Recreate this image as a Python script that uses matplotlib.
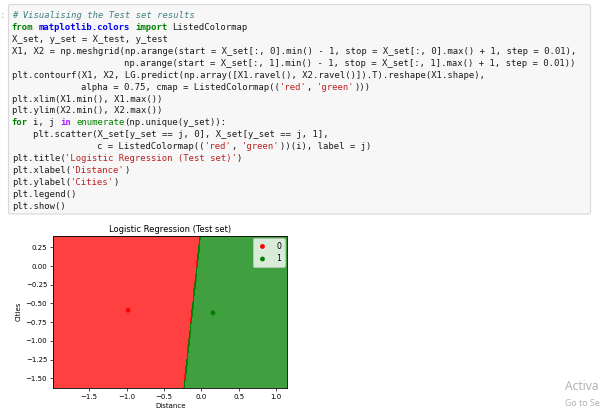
import re
import numpy as np
import matplotlib
matplotlib.use("Agg")
import matplotlib.pyplot as plt
from matplotlib.colors import ListedColormap
from matplotlib.patches import FancyBboxPatch

# ---------------- data ----------------
code_lines = [
    "# Visualising the Test set results",
    "from matplotlib.colors import ListedColormap",
    "X_set, y_set = X_test, y_test",
    "X1, X2 = np.meshgrid(np.arange(start = X_set[:, 0].min() - 1, stop = X_set[:, 0].max() + 1, step = 0.01),",
    "                     np.arange(start = X_set[:, 1].min() - 1, stop = X_set[:, 1].max() + 1, step = 0.01))",
    "plt.contourf(X1, X2, LG.predict(np.array([X1.ravel(), X2.ravel()]).T).reshape(X1.shape),",
    "             alpha = 0.75, cmap = ListedColormap(('red', 'green')))",
    "plt.xlim(X1.min(), X1.max())",
    "plt.ylim(X2.min(), X2.max())",
    "for i, j in enumerate(np.unique(y_set)):",
    "    plt.scatter(X_set[y_set == j, 0], X_set[y_set == j, 1],",
    "                c = ListedColormap(('red', 'green'))(i), label = j)",
    "plt.title('Logistic Regression (Test set)')",
    "plt.xlabel('Distance')",
    "plt.ylabel('Cities')",
    "plt.legend()",
    "plt.show()",
]

watermark_lines = ["Activa", "Go to Se"]

class_labels = [0, 1]
point_x = [-0.98, 0.155]      # Distance of the test points
point_y = [-0.59, -0.625]     # Cities of the test points
point_class = [0, 1]

# linear decision function (class 1 where positive), read from the boundary
decision_coef = [3.0, -0.317]
decision_intercept = 0.175

x_ticks = [-1.5, -1.0, -0.5, 0.0, 0.5, 1.0]
y_ticks = [0.25, 0.0, -0.25, -0.5, -0.75, -1.0, -1.25, -1.5]

# ---------------- figure ----------------
W, H = 606, 420
fig = plt.figure(figsize=(W / 100, H / 100), dpi=100)
fig.patch.set_facecolor("white")

ov = fig.add_axes([0, 0, 1, 1])
ov.set_xlim(0, W)
ov.set_ylim(H, 0)
ov.axis("off")

cell = FancyBboxPatch((8.5, 4.5), 582, 209.5,
                      boxstyle="round,pad=0,rounding_size=2",
                      facecolor="#f7f7f7", edgecolor="#d8d8d8", linewidth=0.8)
ov.add_patch(cell)
ov.text(2.5, 15.7, ":", fontsize=6.4, color="#b0b0b0", family="DejaVu Sans Mono",
        ha="center", va="center")

char_w = 5.36
font_pt = char_w / 0.602 * 72 / 100
x0 = 11.7
y0 = 15.7
dy = 11.9
tok_re = re.compile(r"(#.*)|('[^']*')|([A-Za-z_][A-Za-z_0-9.]*)|(\d+(?:\.\d+)?)|(.)")
kw = {"from", "import", "for"}
DEFAULT = ("#1a1a1a", "normal", "normal")
for li, line in enumerate(code_lines):
    y = y0 + li * dy
    prev_word = None
    runs = []  # [start_col, text, style]
    for m in tok_re.finditer(line):
        tok = m.group(0)
        st = DEFAULT
        if m.group(1):
            st = ("#408080", "normal", "italic")
        elif m.group(2):
            st = ("#BA2121", "normal", "normal")
        elif m.group(3):
            if tok in kw:
                st = ("#008000", "bold", "normal")
            elif tok == "in":
                st = ("#AA22FF", "bold", "normal")
            elif tok == "enumerate":
                st = ("#008000", "normal", "normal")
            elif prev_word == "from":
                st = ("#0000FF", "bold", "normal")
            prev_word = tok
        if tok.isspace() and runs:
            st = runs[-1][2]
        if runs and runs[-1][2] == st:
            runs[-1][1] += tok
        else:
            runs.append([m.start(), tok, st])
    for col, txt, (color, weight, style) in runs:
        if txt.strip() == "":
            continue
        lead = len(txt) - len(txt.lstrip())
        ov.text(x0 + (col + lead) * char_w, y, txt.strip(), fontsize=font_pt, color=color,
                fontweight=weight, fontstyle=style, family="DejaVu Sans Mono",
                ha="left", va="center")

ov.text(565, 386, watermark_lines[0], fontsize=8.6, color="#b4b4b4",
        family="Noto Sans", ha="left", va="center")
ov.text(565, 403, watermark_lines[1], fontsize=6.4, color="#b4b4b4",
        family="Noto Sans", ha="left", va="center")

# ---------------- chart ----------------
ax_l, ax_r, ax_t, ax_b = 53.3, 287.3, 235.7, 387.7
ax = fig.add_axes([ax_l / W, 1 - ax_b / H, (ax_r - ax_l) / W, (ax_b - ax_t) / H])

px = np.array(point_x)
py = np.array(point_y)
X1, X2 = np.meshgrid(np.arange(px.min() - 1, px.max() + 1, 0.01),
                     np.arange(py.min() - 1, py.max() + 1, 0.01))
Z = (decision_coef[0] * X1 + decision_coef[1] * X2 + decision_intercept > 0).astype(int)
cmap = ListedColormap(("red", "green"))
ax.contourf(X1, X2, Z, alpha=0.75, cmap=cmap)
ax.set_xlim(X1.min(), X1.max())
ax.set_ylim(X2.min(), X2.max())
pc = np.array(point_class)
for i, j in enumerate(class_labels):
    ax.scatter(px[pc == j], py[pc == j], color=cmap(i), s=12, label=str(j),
               edgecolors="none", zorder=3)

fs = 5.0
ax.set_title("Logistic Regression (Test set)", fontsize=6.0, pad=3)
ax.set_xlabel("Distance", fontsize=fs, labelpad=2.5)
ax.set_ylabel("Cities", fontsize=fs, labelpad=2.5)
ax.set_xticks(x_ticks)
ax.set_yticks(y_ticks)
ax.set_xticklabels([f"{v:.1f}".replace("-", "\u2212") for v in x_ticks])
ax.set_yticklabels([f"{v:.2f}".replace("-", "\u2212") for v in y_ticks])
ax.tick_params(labelsize=fs, length=2.4, width=0.5, pad=2)
for s in ax.spines.values():
    s.set_linewidth(0.6)
leg = ax.legend(loc="upper right", fontsize=5.6, borderaxespad=0.3,
                handletextpad=1.0, borderpad=0.45, labelspacing=0.45,
                handlelength=1.6, framealpha=0.8)
leg.get_frame().set_linewidth(0.5)

fig.savefig("out.png", dpi=100)
